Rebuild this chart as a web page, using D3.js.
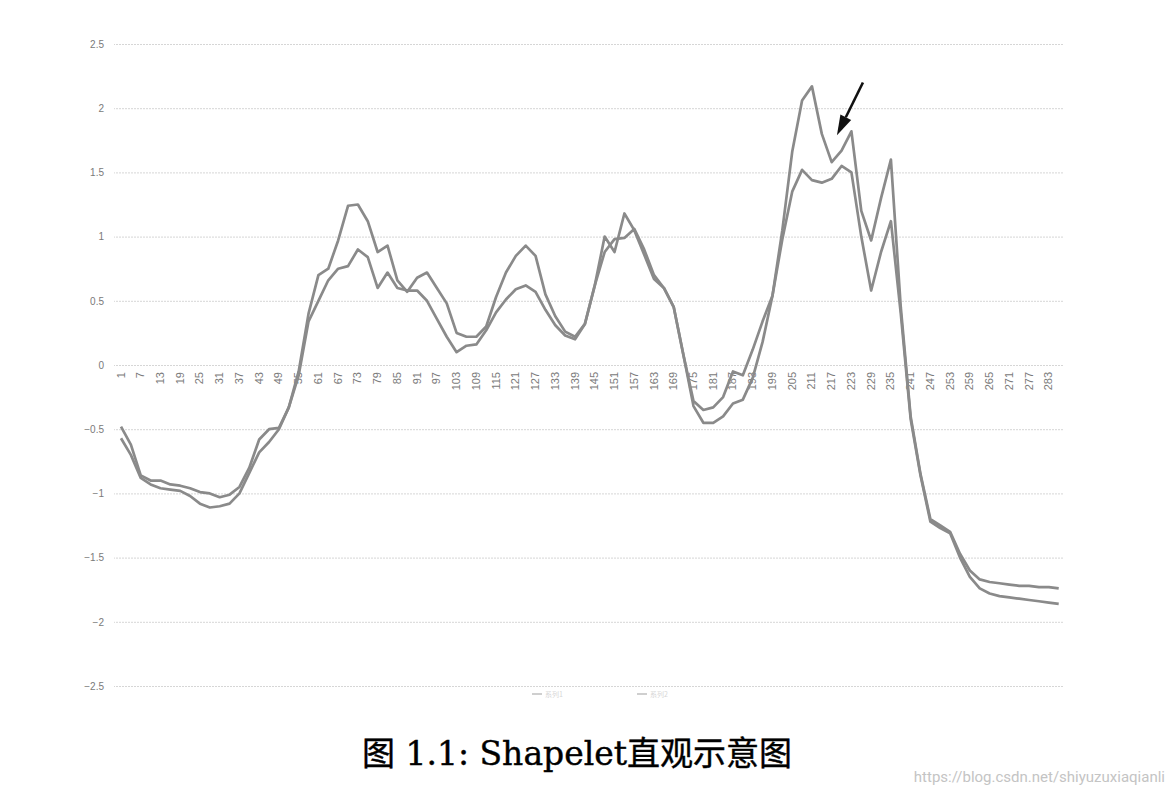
<!DOCTYPE html>
<html>
<head>
<meta charset="utf-8">
<script src="https://d3js.org/d3.v7.min.js"></script>
<style>
  html, body { margin: 0; padding: 0; background: #fff; }
  svg { display: block; }
</style>
</head>
<body>
<script>
// sampled every 3rd point of the series (1 .. 286)
var sampleAt = d3.range(1, 287, 3);

var seriesA = [
  -0.48, -0.62, -0.86, -0.90, -0.90, -0.93, -0.94, -0.96, -0.99, -1.00,
  -1.03, -1.01, -0.95, -0.80, -0.58, -0.50, -0.49, -0.33, -0.05, 0.40,
  0.70, 0.75, 0.97, 1.24, 1.25, 1.12, 0.88, 0.93, 0.66, 0.57,
  0.68, 0.72, 0.60, 0.48, 0.25, 0.22, 0.22, 0.30, 0.53, 0.72,
  0.85, 0.93, 0.85, 0.55, 0.38, 0.26, 0.22, 0.32, 0.62, 1.00,
  0.88, 1.18, 1.05, 0.86, 0.67, 0.60, 0.45, 0.07, -0.32, -0.45,
  -0.45, -0.40, -0.30, -0.27, -0.10, 0.18, 0.54, 1.05, 1.66, 2.06,
  2.17, 1.80, 1.58, 1.67, 1.82, 1.20, 0.97, 1.30, 1.60, 0.45,
  -0.40, -0.85, -1.20, -1.25, -1.30, -1.47, -1.60, -1.67, -1.69, -1.70,
  -1.71, -1.72, -1.72, -1.73, -1.73, -1.74
];

var seriesB = [
  -0.57, -0.70, -0.88, -0.93, -0.96, -0.97, -0.98, -1.02, -1.08, -1.11,
  -1.10, -1.08, -1.00, -0.84, -0.68, -0.60, -0.50, -0.33, -0.08, 0.34,
  0.50, 0.66, 0.75, 0.77, 0.90, 0.84, 0.60, 0.72, 0.60, 0.58,
  0.58, 0.50, 0.36, 0.22, 0.10, 0.15, 0.16, 0.27, 0.41, 0.51,
  0.59, 0.62, 0.57, 0.43, 0.31, 0.23, 0.20, 0.32, 0.62, 0.88,
  0.98, 0.99, 1.06, 0.90, 0.70, 0.60, 0.45, 0.07, -0.28, -0.35,
  -0.33, -0.25, -0.05, -0.08, 0.12, 0.34, 0.54, 0.98, 1.35, 1.52,
  1.44, 1.42, 1.45, 1.55, 1.50, 1.00, 0.58, 0.88, 1.12, 0.40,
  -0.42, -0.86, -1.22, -1.27, -1.31, -1.50, -1.65, -1.74, -1.78, -1.80,
  -1.81, -1.82, -1.83, -1.84, -1.85, -1.86
];

var xTickLabels = [
  1, 7, 13, 19, 25, 31, 37, 43, 49, 55, 61, 67, 73, 79, 85, 91,
  97, 103, 109, 115, 121, 127, 133, 139, 145, 151, 157, 163, 169, 175, 181, 187,
  193, 199, 205, 211, 217, 223, 229, 235, 241, 247, 253, 259, 265, 271, 277, 283
];

var yTicks = [-2.5, -2, -1.5, -1, -0.5, 0, 0.5, 1, 1.5, 2, 2.5];
var seriesNames = ["系列1", "系列2"];

var caption = "图 1.1: Shapelet直观示意图";
var watermark = "https://blog.csdn.net/shiyuzuxiaqianli";

// arrow pointing at the shapelet: [tail, tip] in data units
var arrowAt = [[226.5, 2.2], [218.6, 1.79]];


class Line_D3 {
  constructor(width, height, margin) {
    this.margin = margin;
    this.width = width;
    this.height = height;

    this.svg = d3.select("body")
      .append("svg")
        .attr("width", width)
        .attr("height", height);

    this.x = d3.scaleLinear()
      .domain([1, 287])
      .range([margin.left, width - margin.right]);

    this.y = d3.scaleLinear()
      .domain([-2.5, 2.5])
      .range([margin.bottom, margin.top]);
  };

  //horizontal grid + y labels
  getYAxis(path, obj) {
    var axis = d3.axisLeft(obj.y)
      .tickValues(yTicks)
      .tickSize(obj.x(287) - obj.x(1) + 8)
      .tickPadding(10)
      .tickFormat(d3.format("~g"));

    path
      .attr("transform", "translate(" + (obj.x(287) + 1) + ",0)")
      .call(axis)
      .call(function(g) { g.select(".domain").remove(); });

    path.selectAll(".tick line")
      .attr("stroke", "#d6d6d6")
      .attr("stroke-width", 1)
      .attr("stroke-dasharray", "2,1");

    path.selectAll(".tick text")
      .attr("fill", "#7a7a7a")
      .attr("font-family", "Liberation Sans, Arial, sans-serif")
      .attr("font-size", 10);
  };

  //category labels sit under the zero line, rotated
  getXAxis(path, obj) {
    path.selectAll("text")
      .data(xTickLabels)
      .enter()
      .append("text")
        .attr("transform", function(d) {
          return "translate(" + (obj.x(d) + 3.5) + "," + (obj.y(0) + 7) + ") rotate(-90)";
        })
        .attr("text-anchor", "end")
        .attr("fill", "#7a7a7a")
        .attr("font-family", "Liberation Sans, Arial, sans-serif")
        .attr("font-size", 11)
        .text(function(d) { return d; });
  };

  plot() {
    var obj = this;

    this.svg.append("g")
      .attr("class", "y axis")
      .call(this.getYAxis, this);

    this.svg.append("g")
      .attr("class", "x labels")
      .call(this.getXAxis, this);

    var line = d3.line()
      .x(function(d) { return obj.x(d[0]); })
      .y(function(d) { return obj.y(d[1]); });

    [seriesA, seriesB].forEach(function(values) {
      obj.svg.append("path")
        .datum(d3.zip(sampleAt, values))
        .attr("fill", "none")
        .attr("stroke", "#8a8a8a")
        .attr("stroke-width", 2.7)
        .attr("stroke-linejoin", "round")
        .attr("d", line);
    });

    this.drawArrow();
    this.drawLegend();
    this.drawCaption();
  };

  drawArrow() {
    var x0 = this.x(arrowAt[0][0]), y0 = this.y(arrowAt[0][1]);
    var x1 = this.x(arrowAt[1][0]), y1 = this.y(arrowAt[1][1]);
    var ang = Math.atan2(y1 - y0, x1 - x0);
    var headLen = 20, headW = 6;
    var bx = x1 - headLen * Math.cos(ang), by = y1 - headLen * Math.sin(ang);
    var nx = -Math.sin(ang), ny = Math.cos(ang);

    this.svg.append("line")
      .attr("x1", x0).attr("y1", y0)
      .attr("x2", bx).attr("y2", by)
      .attr("stroke", "#111")
      .attr("stroke-width", 2.6);

    this.svg.append("path")
      .attr("d", "M" + x1 + "," + y1 +
        "L" + (bx + nx * headW) + "," + (by + ny * headW) +
        "L" + (bx - nx * headW) + "," + (by - ny * headW) + "Z")
      .attr("fill", "#111");
  };

  // the legend is almost washed out in the scan
  drawLegend() {
    var g = this.svg.append("g").attr("opacity", 0.35);
    var starts = [532, 637];
    starts.forEach(function(sx, i) {
      g.append("line")
        .attr("x1", sx).attr("x2", sx + 10)
        .attr("y1", 694).attr("y2", 694)
        .attr("stroke", "#777").attr("stroke-width", 2);
      g.append("text")
        .attr("x", sx + 13).attr("y", 697)
        .attr("font-size", 7)
        .attr("fill", "#888")
        .attr("font-family", "Noto Sans CJK SC, sans-serif")
        .text(seriesNames[i]);
    });
  };

  drawCaption() {
    this.svg.append("text")
      .attr("x", 577)
      .attr("y", 765)
      .attr("text-anchor", "middle")
      .attr("font-family", "DejaVu Serif, Liberation Serif, Noto Sans CJK SC, serif")
      .attr("font-size", 33)
      .attr("fill", "#000")
      .attr("stroke", "#000")
      .attr("stroke-width", 0.4)
      .text(caption);

    this.svg.append("text")
      .attr("x", 1165)
      .attr("y", 782)
      .attr("text-anchor", "end")
      .attr("font-family", "Liberation Sans Narrow, Roboto, sans-serif")
      .attr("font-size", 15)
      .attr("fill", "#c4c4c4")
      .text(watermark);
  };
}; // End Class

var chart = new Line_D3(1173, 796, { left: 121, right: 111, top: 44, bottom: 686 });
chart.plot();
</script>
</body>
</html>
